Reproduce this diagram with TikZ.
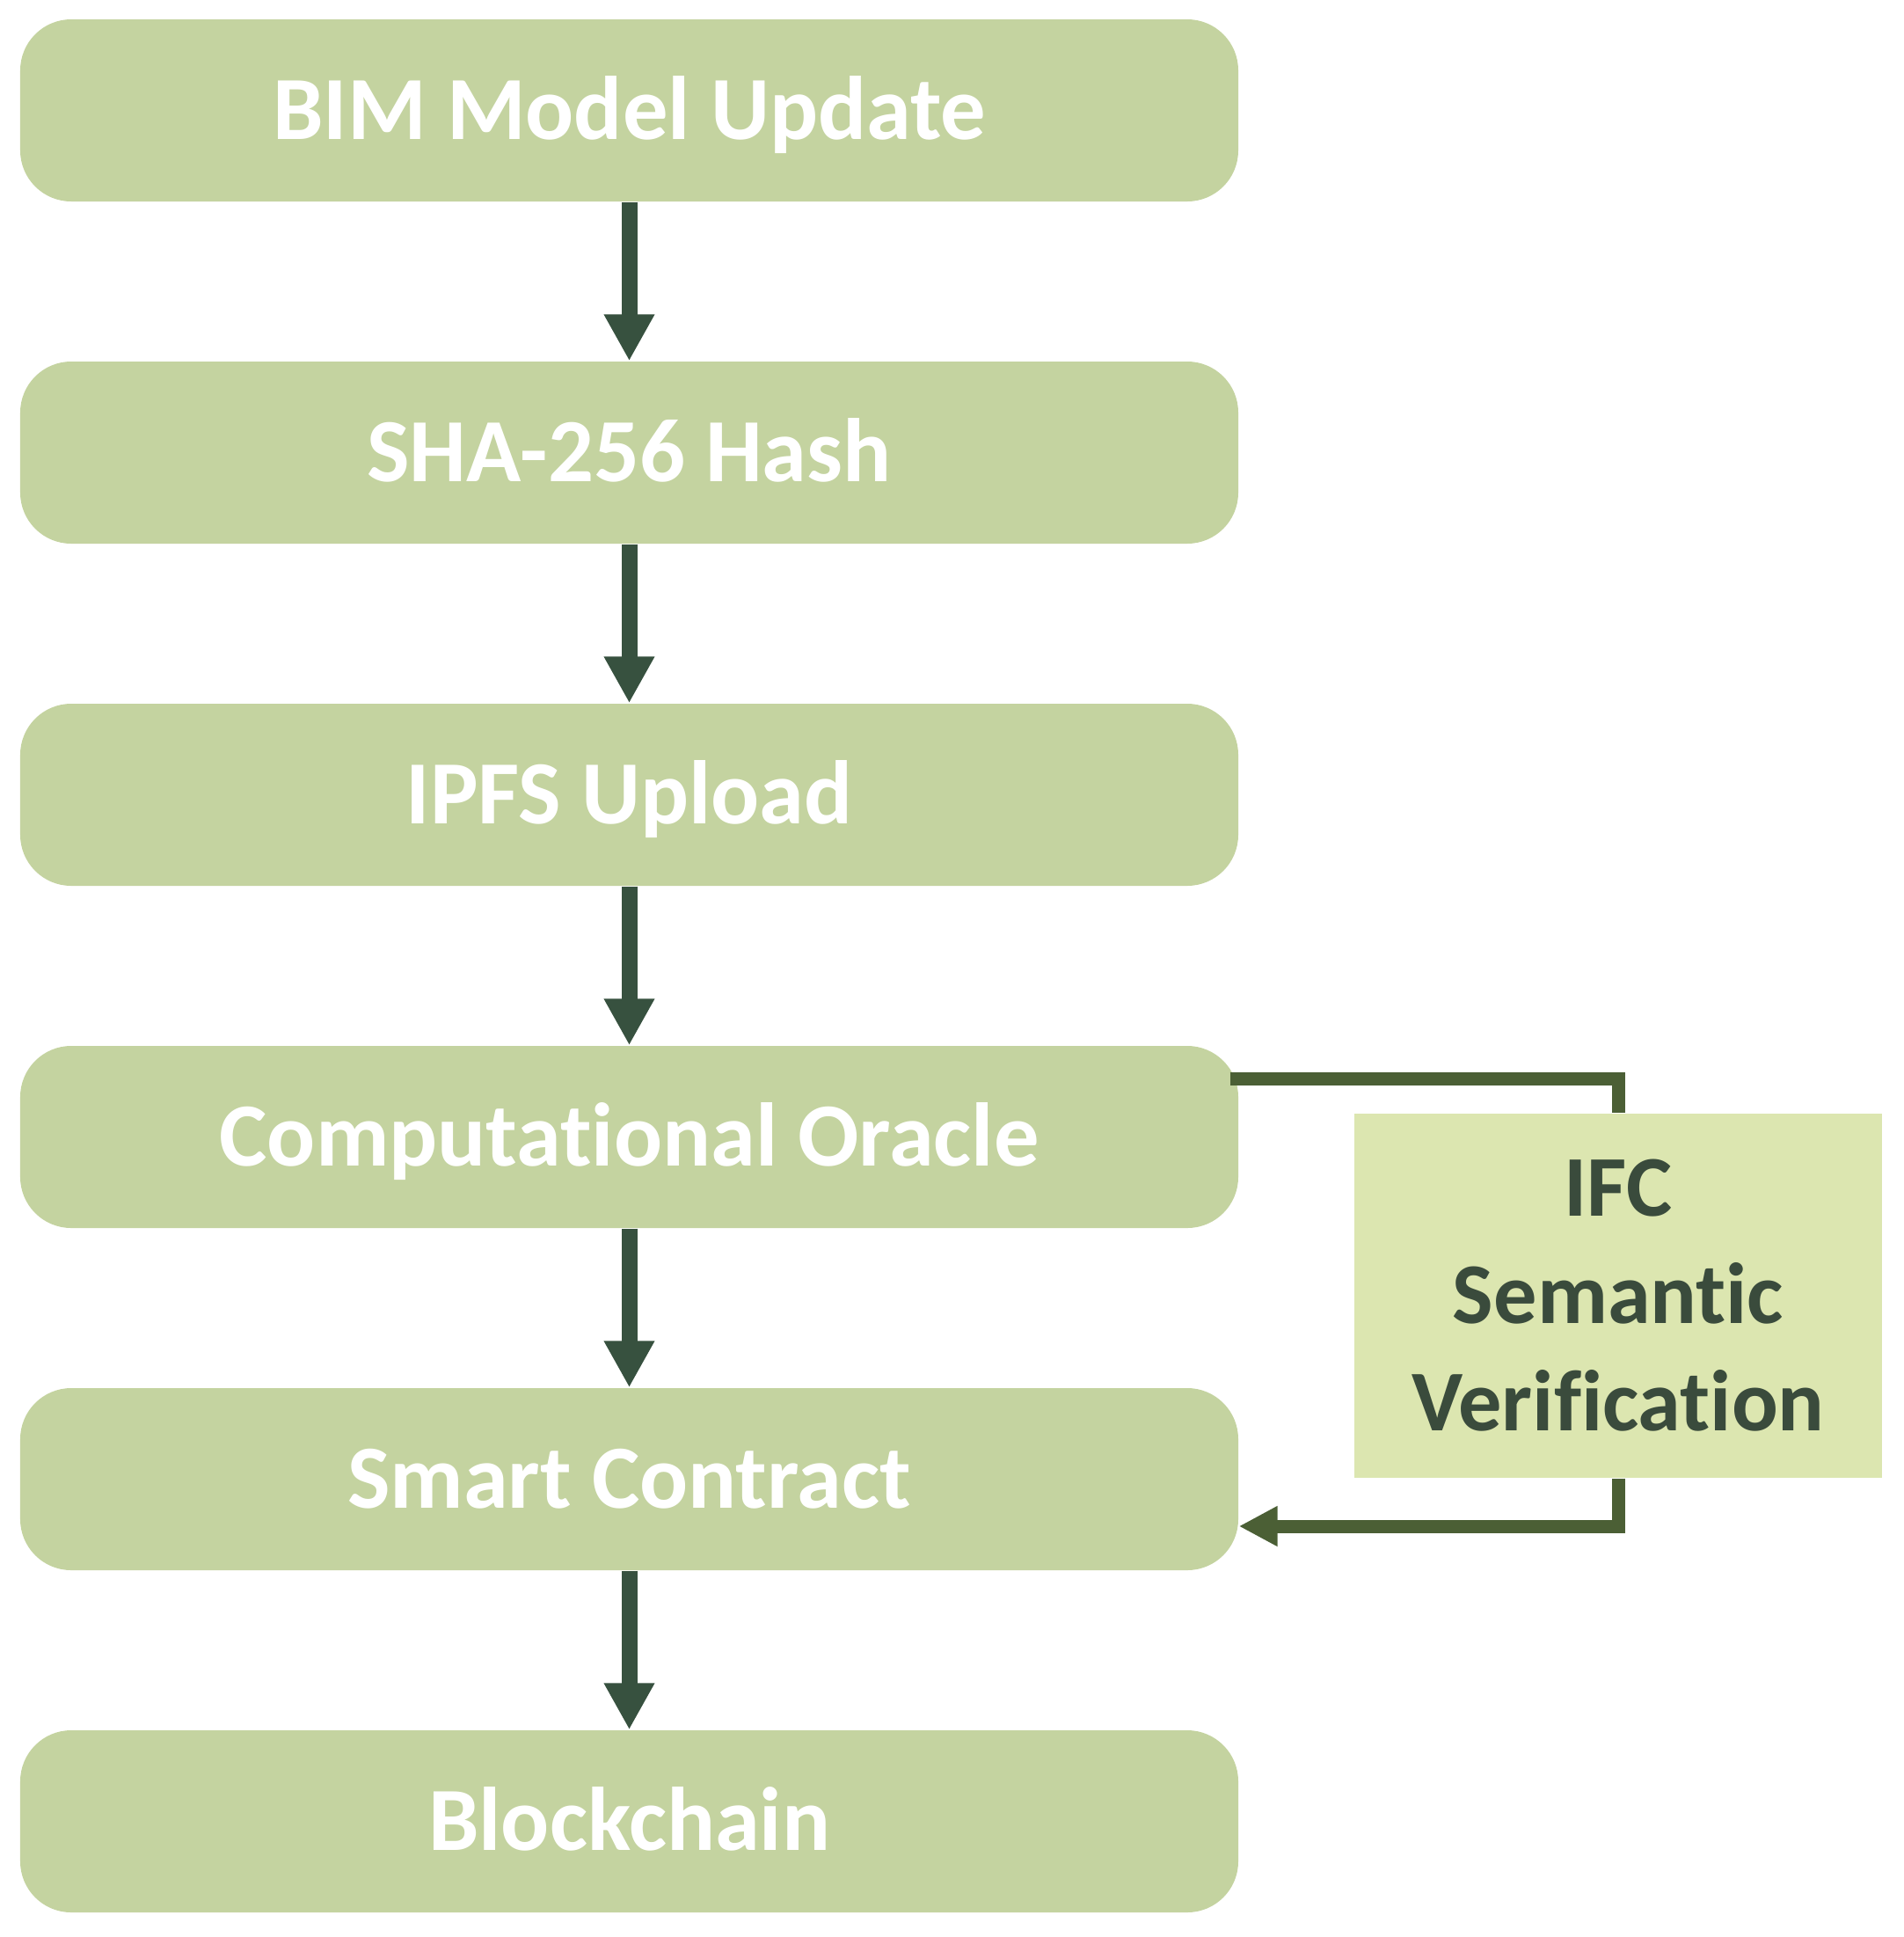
\documentclass[tikz,border=0pt]{standalone}
\usepackage{fontspec}
\setmainfont[Ligatures=NoCommon]{Carlito}
\usepackage{xcolor}
\usepackage{tikz}
\usetikzlibrary{arrows.meta, positioning, calc}
\definecolor{stagegreen}{HTML}{C4D3A0}
\definecolor{checkgreen}{HTML}{DCE6B0}
\definecolor{flowgreen}{HTML}{37513F}
\definecolor{loopgreen}{HTML}{4B5F35}
\definecolor{checktext}{HTML}{3A4B3C}
\tikzstyle{stage} = [rectangle, minimum width=13.85cm, minimum height=2.07cm, inner sep=0pt, text height=18.8pt, text depth=0pt, text centered, fill=stagegreen, rounded corners=0.58cm, text=white, font=\fontsize{29.2}{35}\selectfont\bfseries]
\tikzstyle{verify} = [rectangle, minimum width=6cm, minimum height=4.14cm, inner sep=0pt, align=center, fill=checkgreen, text=checktext, font=\fontsize{28}{34.7}\selectfont\bfseries]
\tikzstyle{arrow} = [line width=0.18cm, draw=flowgreen, -{Triangle[width=0.54cm, length=0.53cm]}]
\tikzstyle{loopline} = [line width=0.15cm, draw=loopgreen, -]
\tikzstyle{looparrow} = [line width=0.15cm, draw=loopgreen, -{Triangle[width=0.43cm, length=0.44cm]}]

\begin{document}
\begin{tikzpicture}[node distance=3.89cm]
        \useasboundingbox (0,0) rectangle (21.64,-22.02);

        % Nodes
        \node (bim) [stage] at (7.155,-1.255) {BIM Model Update};

        \node (hash) [stage, below of=bim] {SHA-256 Hash};

        \node (ipfs) [stage, below of=hash] {IPFS Upload};

        \node (oracle) [stage, below of=ipfs] {Computational Oracle};

        \node (contract) [stage, below of=oracle] {Smart Contract};

        \node (chain) [stage, below of=contract] {Blockchain};

        \node (ifc) [verify, right of=oracle, xshift=7.355cm, yshift=-1.805cm] {IFC\\Semantic\\Verification};

        % Arrows
        \draw [arrow] (bim) -- (hash);
        \draw [arrow] (hash) -- (ipfs);
        \draw [arrow] (ipfs) -- (oracle);
        \draw [arrow] (oracle) -- (contract);
        \draw [arrow] (contract) -- (chain);

        \draw [loopline] ($(oracle.east)+(-0.1,0.665)$) -| (ifc.north);
        \draw [looparrow] (ifc.south) |- ($(contract.east)+(0,-0.535)$); % back into the contract

    \end{tikzpicture}
\end{document}
